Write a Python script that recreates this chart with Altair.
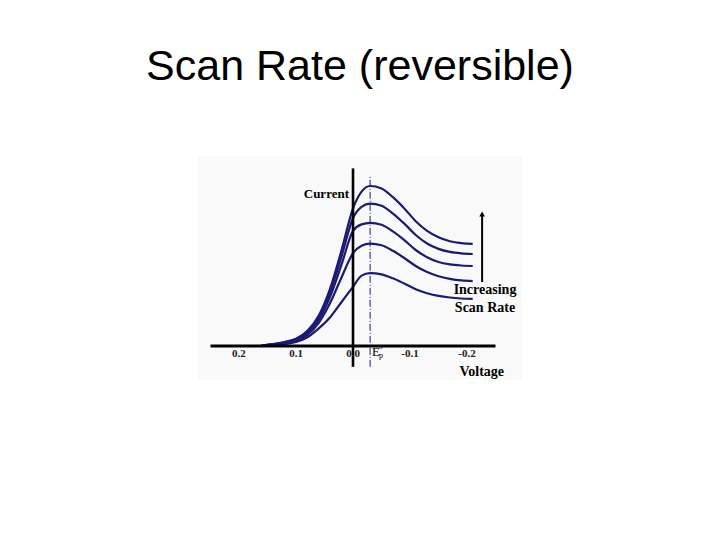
import altair as alt
import pandas as pd

# ---------------- data ----------------
title_text = "Scan Rate (reversible)"

voltage = [0.16, 0.14, 0.12, 0.10, 0.08, 0.06, 0.04, 0.02, 0.0, -0.015, -0.03,
           -0.05, -0.07, -0.09, -0.11, -0.13, -0.15, -0.17, -0.19, -0.21]
curve_1 = [0.004, 0.012, 0.025, 0.045, 0.095, 0.19, 0.36, 0.60, 0.86, 0.965, 1.0,
           0.985, 0.93, 0.86, 0.78, 0.72, 0.68, 0.655, 0.643, 0.638]
curve_2 = [0.004, 0.011, 0.023, 0.042, 0.088, 0.18, 0.34, 0.56, 0.80, 0.87, 0.89,
           0.877, 0.828, 0.765, 0.694, 0.641, 0.607, 0.588, 0.579, 0.575]
curve_3 = [0.004, 0.010, 0.021, 0.039, 0.080, 0.165, 0.31, 0.51, 0.72, 0.76, 0.77,
           0.758, 0.716, 0.662, 0.600, 0.555, 0.525, 0.510, 0.503, 0.500]
curve_4 = [0.003, 0.009, 0.019, 0.035, 0.070, 0.145, 0.27, 0.43, 0.58, 0.627, 0.64,
           0.630, 0.595, 0.550, 0.500, 0.462, 0.436, 0.420, 0.410, 0.406]
curve_5 = [0.003, 0.006, 0.012, 0.025, 0.055, 0.11, 0.18, 0.275, 0.37, 0.44, 0.455,
           0.448, 0.423, 0.390, 0.355, 0.330, 0.313, 0.303, 0.297, 0.294]
curves = [curve_1, curve_2, curve_3, curve_4, curve_5]

tick_values = [0.2, 0.1, 0.0, -0.1, -0.2]
tick_labels = ["0.2", "0.1", "0.0", "-0.1", "-0.2"]

peak_potential = -0.03
axis_span = [0.25, -0.25]          # extent of the voltage axis line
current_span = [-0.13, 1.11]       # extent of the current axis line
peak_line_span = [-0.13, 1.07]
inset_v = [0.272, -0.2965]
inset_c = [1.1875, -0.2125]
arrow_v = -0.2265
arrow_c = [0.40, 0.825]

# ---------------- styling ----------------
NAVY = "#1b1b72"
SERIF = "Liberation Serif"

xs = alt.Scale(domain=[0.60526, -0.62982], nice=False, zero=False)
ys = alt.Scale(domain=[-1.1625, 2.1125], nice=False, zero=False)

rows = []
for i, cv in enumerate(curves):
    for v, c in zip(voltage, cv):
        rows.append({"curve": f"c{i+1}", "v": v, "c": c})
curve_df = pd.DataFrame(rows)

bg = alt.Chart(pd.DataFrame({"v1": [inset_v[0]], "v2": [inset_v[1]],
                             "c1": [inset_c[0]], "c2": [inset_c[1]]})).mark_rect(
    color="#f9f9f9").encode(
    x=alt.X("v1:Q", scale=xs, axis=None), x2="v2:Q",
    y=alt.Y("c1:Q", scale=ys, axis=None), y2="c2:Q")

lines = alt.Chart(curve_df).mark_line(
    color=NAVY, strokeWidth=2.2, interpolate="monotone").encode(
    x=alt.X("v:Q", scale=xs, axis=None),
    y=alt.Y("c:Q", scale=ys, axis=None),
    detail="curve:N",
    order=alt.Order("v:Q", sort="descending"))

xaxis_line = alt.Chart(pd.DataFrame({"v1": [axis_span[0]], "v2": [axis_span[1]], "c": [0.0]})).mark_rule(
    color="black", strokeWidth=2.8).encode(
    x=alt.X("v1:Q", scale=xs, axis=None), x2="v2:Q",
    y=alt.Y("c:Q", scale=ys, axis=None))

yaxis_line = alt.Chart(pd.DataFrame({"v": [0.0], "c1": [current_span[0]], "c2": [current_span[1]]})).mark_rule(
    color="black", strokeWidth=2.6).encode(
    x=alt.X("v:Q", scale=xs, axis=None),
    y=alt.Y("c1:Q", scale=ys, axis=None), y2="c2:Q")

peak_line = alt.Chart(pd.DataFrame({"v": [peak_potential], "c1": [peak_line_span[0]],
                                    "c2": [peak_line_span[1]]})).mark_rule(
    color=NAVY, strokeWidth=1, strokeDash=[7, 2, 1, 2]).encode(
    x=alt.X("v:Q", scale=xs, axis=None),
    y=alt.Y("c1:Q", scale=ys, axis=None), y2="c2:Q")

arrow_shaft = alt.Chart(pd.DataFrame({"v": [arrow_v], "c1": [arrow_c[0]], "c2": [arrow_c[1]]})).mark_rule(
    color="black", strokeWidth=2).encode(
    x=alt.X("v:Q", scale=xs, axis=None),
    y=alt.Y("c1:Q", scale=ys, axis=None), y2="c2:Q")

arrow_head = alt.Chart(pd.DataFrame({"v": [arrow_v], "c": [arrow_c[1]]})).mark_point(
    shape="triangle-up", filled=True, color="black", size=32, opacity=1).encode(
    x=alt.X("v:Q", scale=xs, axis=None),
    y=alt.Y("c:Q", scale=ys, axis=None))

ticks = alt.Chart(pd.DataFrame({"v": tick_values, "lab": tick_labels, "c": [-0.05] * 5})).mark_text(
    font=SERIF, fontWeight="bold", fontSize=11, color="#222", baseline="middle", align="center").encode(
    x=alt.X("v:Q", scale=xs, axis=None),
    y=alt.Y("c:Q", scale=ys, axis=None),
    text="lab:N")


def label(txt, v, c, size, align="center", weight="bold"):
    return alt.Chart(pd.DataFrame({"v": [v], "c": [c], "t": [txt]})).mark_text(
        font=SERIF, fontWeight=weight, fontSize=size, color="black",
        baseline="middle", align=align).encode(
        x=alt.X("v:Q", scale=xs, axis=None),
        y=alt.Y("c:Q", scale=ys, axis=None),
        text="t:N")


current_lbl = label("Current", 0.007, 0.95, 13, align="right")
inc_lbl = label("Increasing", -0.2316, 0.35, 14)
scan_lbl = label("Scan Rate", -0.2316, 0.24, 14)
volt_lbl = label("Voltage", -0.2258, -0.1625, 14)
e_lbl = label("E", -0.0333, -0.0375, 13, align="left", weight="normal")
p_lbl = label("p", -0.0456, -0.065, 8, align="left", weight="normal")
o_lbl = label("o", -0.0456, -0.008, 7, align="left", weight="normal")

title = alt.Chart(pd.DataFrame({"t": [title_text]})).mark_text(
    font="Liberation Sans", fontSize=43, color="black", align="center",
    baseline="alphabetic").encode(
    x=alt.value(352), y=alt.value(72), text="t:N")

chart = alt.layer(
    bg, lines, xaxis_line, yaxis_line, peak_line, arrow_shaft, arrow_head,
    ticks, current_lbl, inc_lbl, scan_lbl, volt_lbl, e_lbl, p_lbl, o_lbl, title
).properties(
    width=704, height=524, padding=0, autosize=alt.AutoSizeParams(type="none")
).configure_view(stroke=None)

chart.save("out.html", embed_options={"renderer": "svg", "actions": False})
